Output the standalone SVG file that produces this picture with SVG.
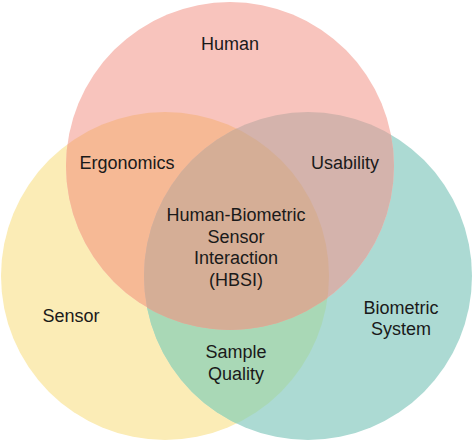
<svg xmlns="http://www.w3.org/2000/svg" width="474" height="440" viewBox="0 0 474 440">
<style>
text{font-family:"Liberation Sans",Arial,sans-serif;font-size:18px;fill:#1a1a1a;text-anchor:middle}
</style>
<defs>
<clipPath id="cH"><circle cx="230" cy="166" r="164"/></clipPath>
<clipPath id="cS"><circle cx="165" cy="276" r="164"/></clipPath>
<clipPath id="cB"><circle cx="308" cy="276" r="164"/></clipPath>
</defs>
<rect width="474" height="440" fill="#ffffff"/>
<g id="sensor"><circle cx="165" cy="276" r="164" fill="#fbecb6"/></g>
<g id="biometric"><circle cx="308" cy="276" r="164" fill="#acdad3"/></g>
<g id="human"><circle cx="230" cy="166" r="164" fill="#f8c4bd"/></g>
<g id="sample-quality"><g clip-path="url(#cS)"><circle cx="308" cy="276" r="164" fill="#a9d8b6"/></g></g>
<g id="ergonomics"><g clip-path="url(#cS)"><circle cx="230" cy="166" r="164" fill="#f6b995"/></g></g>
<g id="usability"><g clip-path="url(#cB)"><circle cx="230" cy="166" r="164" fill="#d4b3ac"/></g></g>
<g id="hbsi"><g clip-path="url(#cS)"><g clip-path="url(#cB)"><circle cx="230" cy="166" r="164" fill="#d5ae96"/></g></g></g>
<g id="labels">
<text x="230" y="50">Human</text>
<text x="127" y="169">Ergonomics</text>
<text x="345" y="169">Usability</text>
<text x="236" y="221">Human-Biometric</text>
<text x="236" y="242.5">Sensor</text>
<text x="236" y="264">Interaction</text>
<text x="236" y="286">(HBSI)</text>
<text x="71" y="322">Sensor</text>
<text x="401" y="314">Biometric</text>
<text x="401" y="335">System</text>
<text x="236" y="358">Sample</text>
<text x="236" y="380">Quality</text>
</g>
</svg>
